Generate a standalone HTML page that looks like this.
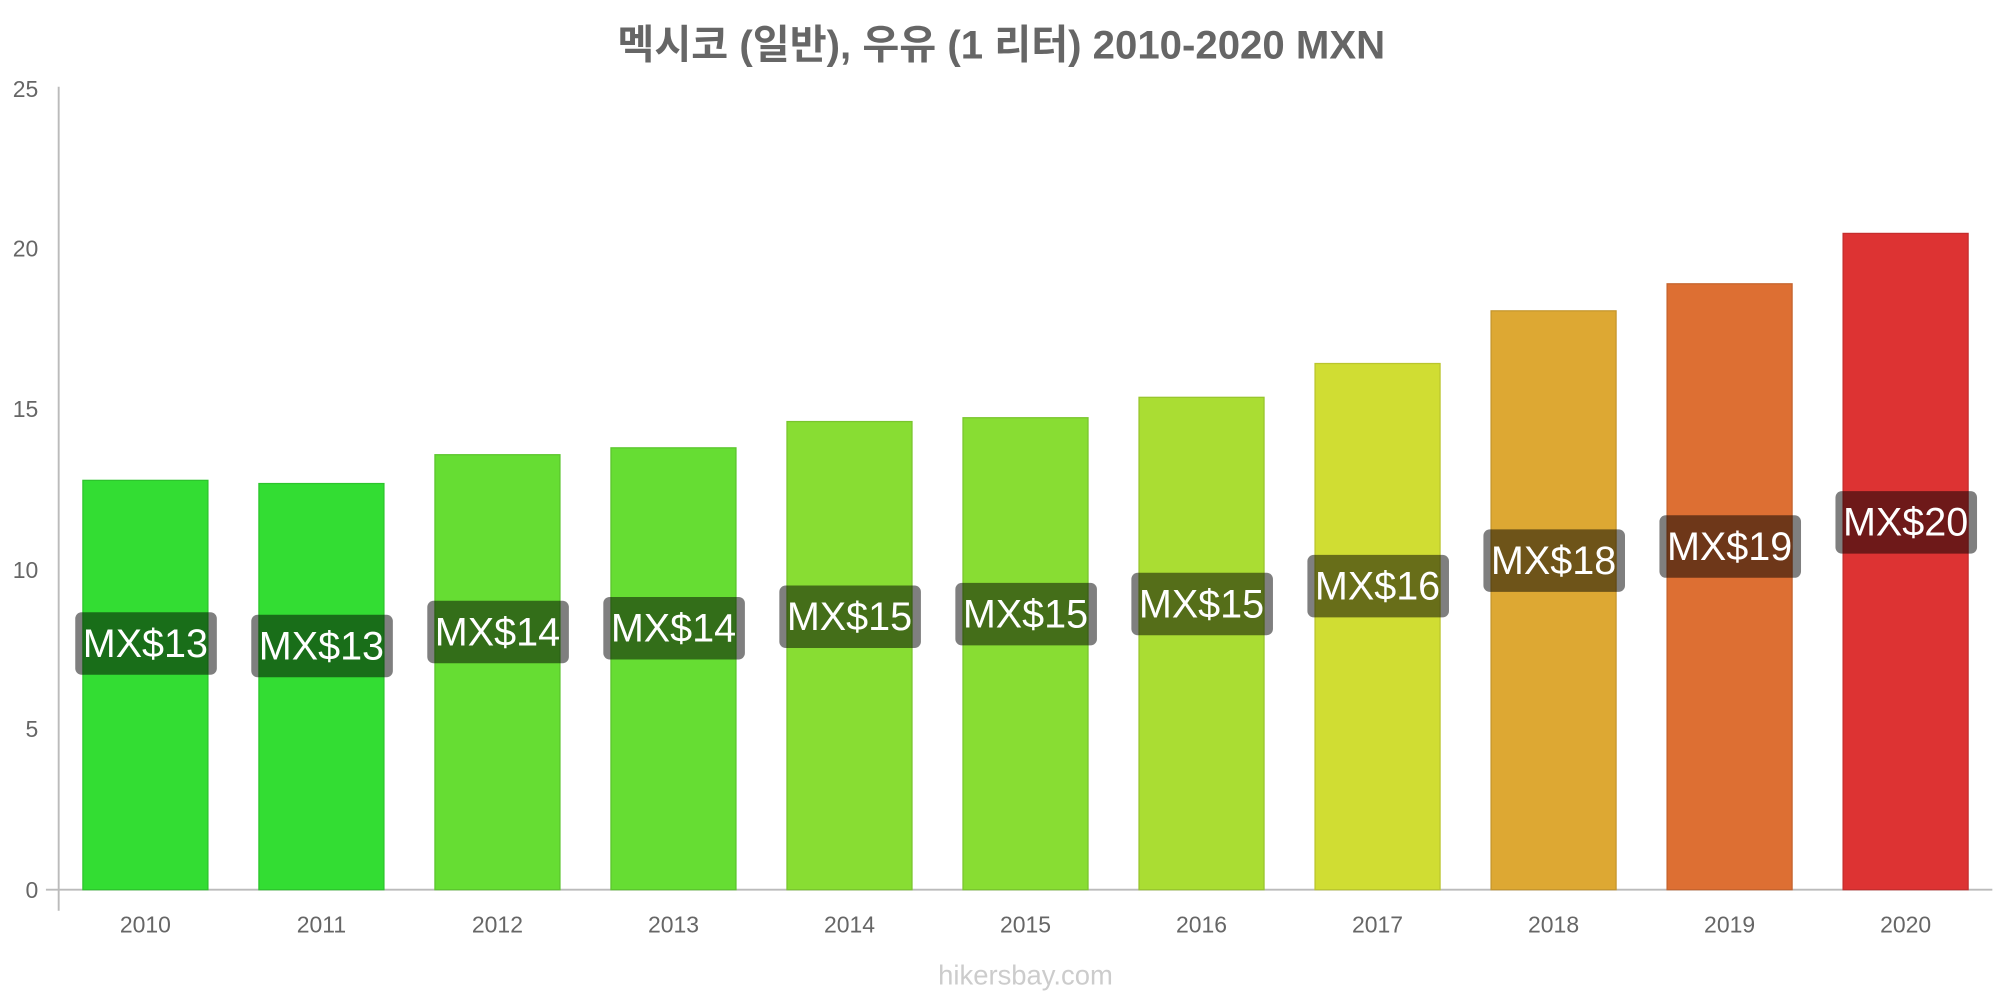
<!DOCTYPE html>
<html><head><meta charset="utf-8"><style>
html,body{margin:0;padding:0;background:#fff;}
svg{display:block;font-family:"Liberation Sans","Noto Sans CJK KR",sans-serif;}
</style></head><body>
<svg width="2000" height="1000" viewBox="0 0 1568 784" xmlns="http://www.w3.org/2000/svg">
<text x="785" y="46" text-anchor="middle" font-size="31.5" font-weight="bold" fill="#666">멕시코 (일반), 우유 (1 리터) 2010-2020 MXN</text>
<line x1="46" y1="68" x2="46" y2="714" stroke="#bbb" stroke-width="1.5"/>
<line x1="36" y1="697.5" x2="1562" y2="697.5" stroke="#bbb" stroke-width="1.5"/>
<g font-size="18" fill="#666" text-anchor="end">
<text x="30" y="76">25</text><text x="30" y="201">20</text><text x="30" y="327">15</text>
<text x="30" y="453">10</text><text x="30" y="578">5</text><text x="30" y="704">0</text>
</g>
<text x="804" y="772" text-anchor="middle" font-size="21.5" fill="#ccc">hikersbay.com</text>
<g stroke-width="1">
<rect x="65" y="376.6" width="98" height="320.9" fill="#33dd33" stroke="#2cc52c"/>
<rect x="203" y="379.1" width="98" height="318.4" fill="#33dd33" stroke="#2cc52c"/>
<rect x="341" y="356.5" width="98" height="341" fill="#66dd33" stroke="#5bc52d"/>
<rect x="479" y="351.1" width="98" height="346.4" fill="#66dd33" stroke="#5bc52d"/>
<rect x="617" y="330.5" width="98" height="367" fill="#88dd33" stroke="#79c52d"/>
<rect x="755" y="327.5" width="98" height="370" fill="#88dd33" stroke="#79c52d"/>
<rect x="893" y="311.5" width="98" height="386" fill="#aadd33" stroke="#98c52d"/>
<rect x="1031" y="285" width="98" height="412.5" fill="#d0dd33" stroke="#bac52d"/>
<rect x="1169" y="243.7" width="98" height="453.8" fill="#dda833" stroke="#c5962d"/>
<rect x="1307" y="222.5" width="98" height="475" fill="#dd6f33" stroke="#c5632d"/>
<rect x="1445" y="183" width="98" height="514.5" fill="#dd3333" stroke="#c52d2d"/>
</g>
<g fill="rgba(0,0,0,0.5)">
<rect x="59" y="480" width="111" height="49" rx="5"/>
<rect x="197" y="482" width="111" height="49" rx="5"/>
<rect x="335" y="471" width="111" height="49" rx="5"/>
<rect x="473" y="468" width="111" height="49" rx="5"/>
<rect x="611" y="459" width="111" height="49" rx="5"/>
<rect x="749" y="457" width="111" height="49" rx="5"/>
<rect x="887" y="449" width="111" height="49" rx="5"/>
<rect x="1025" y="435" width="111" height="49" rx="5"/>
<rect x="1163" y="415" width="111" height="49" rx="5"/>
<rect x="1301" y="404" width="111" height="49" rx="5"/>
<rect x="1439" y="385" width="111" height="49" rx="5"/>
</g>
<g font-size="31" fill="#fff" text-anchor="middle">
<text x="114" y="515">MX$13</text>
<text x="252" y="517">MX$13</text>
<text x="390" y="506">MX$14</text>
<text x="528" y="503">MX$14</text>
<text x="666" y="494">MX$15</text>
<text x="804" y="492">MX$15</text>
<text x="942" y="484">MX$15</text>
<text x="1080" y="470">MX$16</text>
<text x="1218" y="450">MX$18</text>
<text x="1356" y="439">MX$19</text>
<text x="1494" y="420">MX$20</text>
</g>
<g font-size="18" fill="#666" text-anchor="middle">
<text x="114" y="731">2010</text><text x="252" y="731">2011</text><text x="390" y="731">2012</text>
<text x="528" y="731">2013</text><text x="666" y="731">2014</text><text x="804" y="731">2015</text>
<text x="942" y="731">2016</text><text x="1080" y="731">2017</text><text x="1218" y="731">2018</text>
<text x="1356" y="731">2019</text><text x="1494" y="731">2020</text>
</g>
</svg>
</body></html>
